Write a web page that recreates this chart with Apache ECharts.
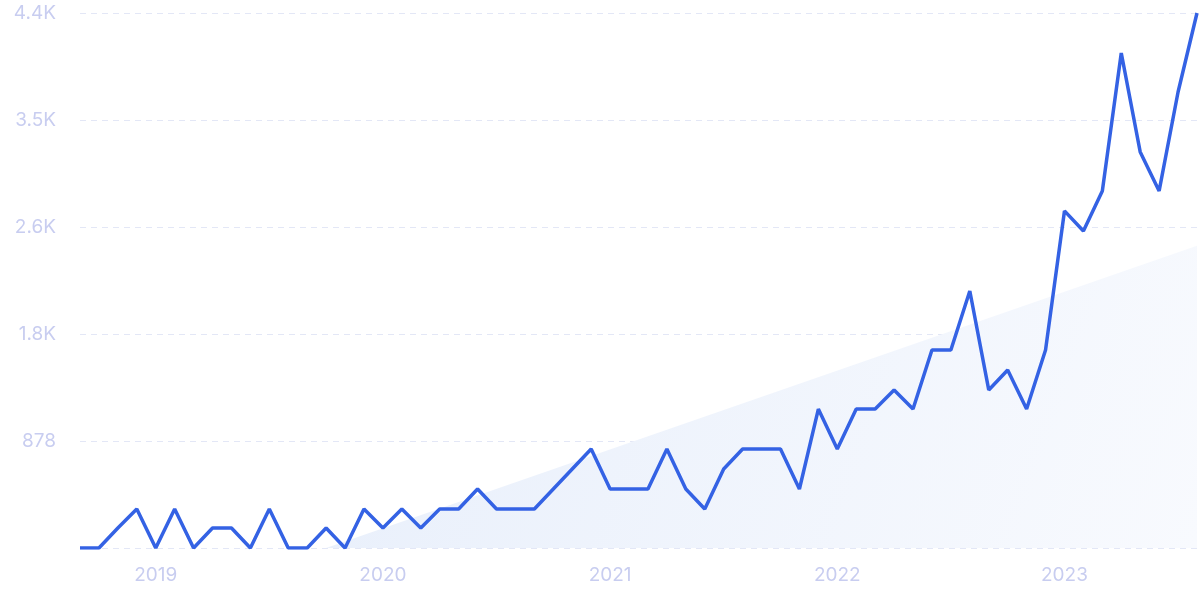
<!DOCTYPE html>
<html><head><meta charset="utf-8">
<script src="https://cdn.jsdelivr.net/npm/echarts@6/dist/echarts.min.js"></script>
<style>html,body{margin:0;padding:0;background:#fff}#c{width:1200px;height:600px}</style>
</head><body><div id="c"></div>
<script>
const months = [];
for (let y = 2018, m = 9; months.length < 60; ) { months.push(y + '-' + String(m).padStart(2,'0')); m++; if (m > 12) { m = 1; y++; } }
const values = [0,0,164,320,0,320,0,164,164,0,320,0,0,164,0,320,164,320,164,320,320,484,320,320,320,484,648,812,484,484,484,812,484,320,648,812,812,812,484,1140,812,1140,1140,1297,1140,1625,1625,2109,1297,1461,1140,1625,2766,2601,2930,4062,3250,2930,3742,4390];
const trend = [null,null,null,null,null,null,null,null,null,null,null,null,null,0,null,null,null,null,null,null,null,null,null,null,null,null,null,null,null,null,null,null,null,null,null,null,null,null,null,null,null,null,null,null,null,null,null,null,null,null,null,null,null,null,null,null,null,null,null,2480];
const yTicks = {878:'878',1756:'1.8K',2634:'2.6K',3512:'3.5K',4390:'4.4K'};
const chart = echarts.init(document.getElementById('c'));
chart.setOption({
  animation:false,
  grid:{left:80,right:3,top:13,bottom:52},
  xAxis:{type:'category',data:months,boundaryGap:false,
    axisLine:{show:false},axisTick:{show:false},
    axisLabel:{interval:(i,v)=>v.endsWith('-01'),formatter:v=>v.slice(0,4),color:'#c8cdf0',fontSize:19,fontFamily:'Inter',margin:18}},
  yAxis:{type:'value',min:0,max:4390,interval:878,
    axisLabel:{formatter:v=>yTicks[v]||'',color:'#c8cdf0',fontSize:19,fontFamily:'Inter',margin:24,verticalAlign:'middle'},
    splitLine:{lineStyle:{type:[6,5],color:'#e3e7f6'}}},
  series:[
    {type:'line',data:trend,connectNulls:true,symbol:'none',lineStyle:{width:0},
     areaStyle:{color:new echarts.graphic.LinearGradient(0,0,1,1,[{offset:0,color:'#e8effb'},{offset:1,color:'#f8fafe'}]),opacity:1},z:1},
    {type:'line',data:values,symbol:'none',lineStyle:{width:3.5,color:'#3462e4'},z:3}
  ]
});
</script></body></html>
